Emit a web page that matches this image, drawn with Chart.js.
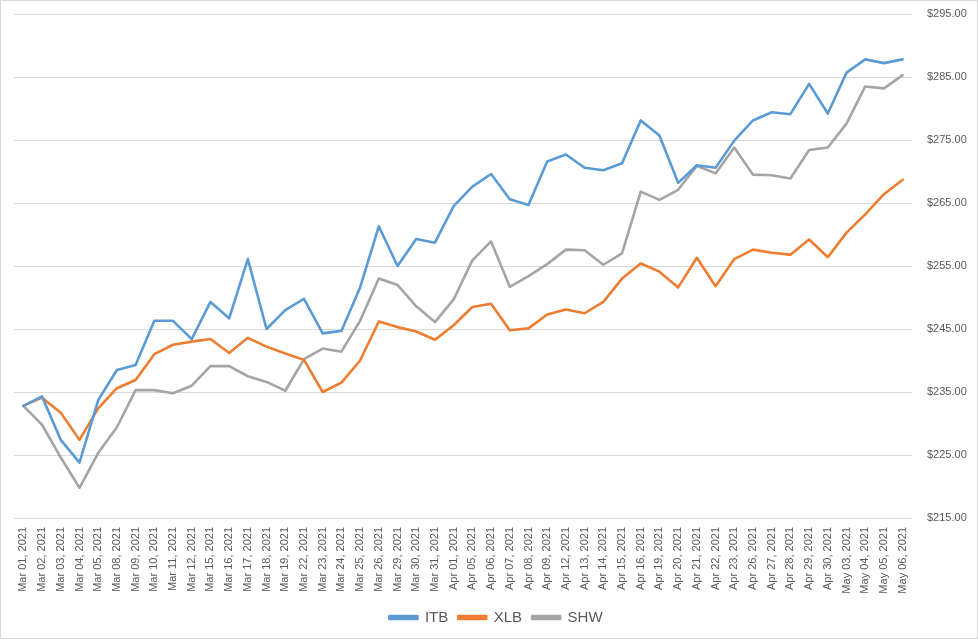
<!DOCTYPE html>
<html lang="en">
<head>
    <meta charset="UTF-8">
    <title>ITB vs XLB vs SHW</title>
    <script src="https://cdn.jsdelivr.net/npm/chart.js"></script>
    <style>
        body { margin: 0; background: #fff; }
        #wrap { width: 978px; height: 639px; position: relative; }
    </style>
</head>
<body>
    <div id="wrap"><canvas id="stock-chart" width="978" height="639"></canvas></div>
    <script>
        // trading days, Mar 01 - May 06 2021
        const dates = [
            'Mar 01, 2021', 'Mar 02, 2021', 'Mar 03, 2021', 'Mar 04, 2021', 'Mar 05, 2021',
            'Mar 08, 2021', 'Mar 09, 2021', 'Mar 10, 2021', 'Mar 11, 2021', 'Mar 12, 2021',
            'Mar 15, 2021', 'Mar 16, 2021', 'Mar 17, 2021', 'Mar 18, 2021', 'Mar 19, 2021',
            'Mar 22, 2021', 'Mar 23, 2021', 'Mar 24, 2021', 'Mar 25, 2021', 'Mar 26, 2021',
            'Mar 29, 2021', 'Mar 30, 2021', 'Mar 31, 2021', 'Apr 01, 2021', 'Apr 05, 2021',
            'Apr 06, 2021', 'Apr 07, 2021', 'Apr 08, 2021', 'Apr 09, 2021', 'Apr 12, 2021',
            'Apr 13, 2021', 'Apr 14, 2021', 'Apr 15, 2021', 'Apr 16, 2021', 'Apr 19, 2021',
            'Apr 20, 2021', 'Apr 21, 2021', 'Apr 22, 2021', 'Apr 23, 2021', 'Apr 26, 2021',
            'Apr 27, 2021', 'Apr 28, 2021', 'Apr 29, 2021', 'Apr 30, 2021', 'May 03, 2021',
            'May 04, 2021', 'May 05, 2021', 'May 06, 2021'
        ];

        const itb = [
            232.8, 234.3, 227.4, 223.8, 233.7, 238.5, 239.3, 246.3, 246.3, 243.4,
            249.3, 246.7, 256.1, 245.0, 248.0, 249.8, 244.3, 244.7, 251.6, 261.3,
            255.0, 259.3, 258.7, 264.5, 267.6, 269.6, 265.6, 264.7, 271.6, 272.7,
            270.6, 270.2, 271.3, 278.1, 275.7, 268.2, 271.0, 270.6, 274.9, 278.1,
            279.4, 279.1, 283.9, 279.2, 285.7, 287.8, 287.2, 287.8
        ];

        const xlb = [
            232.8, 234.1, 231.7, 227.4, 232.4, 235.6, 236.9, 241.0, 242.5, 243.0,
            243.4, 241.2, 243.6, 242.2, 241.1, 240.1, 235.0, 236.5, 240.0, 246.2,
            245.3, 244.6, 243.3, 245.6, 248.5, 249.0, 244.8, 245.1, 247.3, 248.1,
            247.5, 249.3, 253.0, 255.4, 254.1, 251.6, 256.3, 251.8, 256.1, 257.6,
            257.1, 256.8, 259.2, 256.4, 260.3, 263.2, 266.4, 268.7
        ];

        const shw = [
            232.8, 229.8, 224.6, 219.8, 225.3, 229.4, 235.3, 235.3, 234.8, 236.0,
            239.1, 239.1, 237.5, 236.6, 235.2, 240.2, 241.9, 241.4, 246.3, 253.0,
            252.0, 248.6, 246.1, 249.7, 255.9, 258.9, 251.7, 253.4, 255.3, 257.6,
            257.5, 255.2, 257.0, 266.8, 265.5, 267.1, 270.9, 269.7, 273.8, 269.5,
            269.4, 268.9, 273.4, 273.8, 277.6, 283.5, 283.2, 285.3
        ];

        const yMin = 215;
        const yMax = 295;
        const yStep = 10;

        const textColor = '#595959';
        const gridColor = '#d9d9d9';

        function series(label, data, color) {
            return {
                label: label,
                data: data,
                borderColor: color,
                backgroundColor: color,
                borderWidth: 2.6,
                pointRadius: 0,
                pointHoverRadius: 0,
                tension: 0,
                borderJoinStyle: 'round',
                borderCapStyle: 'round'
            };
        }

        // light frame round the whole picture
        const frame = {
            id: 'frame',
            afterDraw(chart) {
                const ctx = chart.ctx;
                ctx.save();
                ctx.strokeStyle = gridColor;
                ctx.lineWidth = 1;
                ctx.strokeRect(0.5, 0.5, chart.width - 1, chart.height - 1);
                ctx.restore();
            }
        };

        new Chart(document.getElementById('stock-chart').getContext('2d'), {
            type: 'line',
            data: {
                labels: dates,
                datasets: [
                    series('ITB', itb, '#5b9bd5'),
                    series('XLB', xlb, '#ed7d31'),
                    series('SHW', shw, '#a5a5a5')
                ]
            },
            options: {
                responsive: false,
                animation: false,
                layout: { padding: { left: 14, top: 14, right: 0, bottom: 4 } },
                plugins: {
                    tooltip: { enabled: false },
                    legend: {
                        position: 'bottom',
                        labels: {
                            color: textColor,
                            font: { family: 'Liberation Sans', size: 15 },
                            boxWidth: 28,
                            boxHeight: 3,
                            padding: 10
                        }
                    }
                },
                scales: {
                    x: {
                        offset: true,
                        grid: { display: false, drawTicks: false },
                        border: { display: false },
                        ticks: {
                            color: textColor,
                            font: { family: 'Liberation Sans', size: 11 },
                            maxRotation: 90,
                            minRotation: 90,
                            autoSkip: false,
                            padding: 9
                        },
                        afterFit(scale) {
                            scale.height = 82;
                            scale.paddingTop = 0;
                        }
                    },
                    y: {
                        position: 'right',
                        min: yMin,
                        max: yMax,
                        grid: { color: gridColor, lineWidth: 1, drawTicks: false },
                        border: { display: false },
                        ticks: {
                            stepSize: yStep,
                            color: textColor,
                            font: { family: 'Liberation Sans', size: 11 },
                            padding: 15,
                            callback: v => '$' + v.toFixed(2)
                        },
                        afterFit(scale) {
                            scale.width = 66;
                            scale.paddingTop = 0;
                            scale.paddingBottom = 0;
                        }
                    }
                }
            },
            plugins: [frame]
        });
    </script>
</body>
</html>
